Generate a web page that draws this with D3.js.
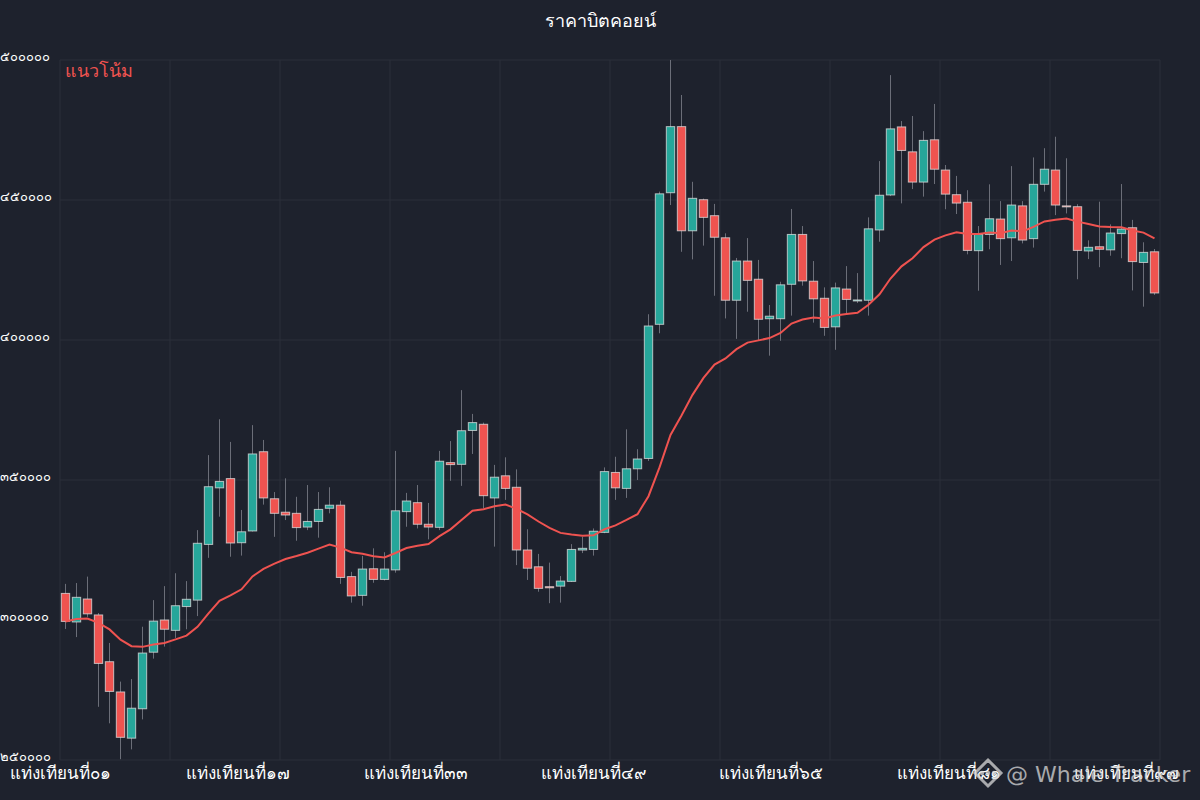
<!DOCTYPE html>
<html>
<head>
<meta charset="utf-8">
<script src="https://cdn.jsdelivr.net/npm/d3@7"></script>
<style>
  html, body { margin: 0; padding: 0; background: #1e222d; }
  svg { display: block; }
</style>
</head>
<body>
<svg id="chart" width="1200" height="800"></svg>
<script>
// ---------- data ----------
const chartTitle = "ราคาบิตคอยน์";
const legendLabel = "แนวโน้ม";
const watermarkText = "@ Whale Tracker";

const opens = [309500,299300,307500,301800,285100,274300,257800,268300,288500,300000,
  296300,304800,307100,327000,347200,350500,327600,331800,360100,343300,
  338500,338100,333200,335200,339900,341000,315500,308800,318300,314500,
  317900,338700,341900,334200,333100,356200,355600,367700,369900,343600,
  351500,347400,325000,319000,311900,312100,313800,325000,325200,331300,
  352700,347000,354000,357700,405600,452600,476200,439000,450100,444400,
  436500,414200,428200,421700,407600,407600,419900,437700,421000,414900,
  404700,418200,414000,414200,439300,451800,476100,467200,456400,471500,
  460700,451900,449200,431900,437700,443200,436500,447900,436200,455600,
  460700,447900,447600,431800,433300,432200,438000,440100,427700,431500];
const highs = [312900,313200,315500,302500,291800,278000,278900,297600,307100,312100,
  316700,313900,332100,358900,371700,363600,339300,369600,364300,345700,
  350600,344000,348200,345700,347400,342600,317200,322900,325600,324200,
  360400,345400,348200,341800,360400,363900,382100,373600,370500,355400,
  358100,353800,332400,323600,320500,315700,327100,329700,332700,354500,
  358300,368100,361000,409200,453000,500000,487500,456500,450500,448600,
  438100,429300,436400,428600,412500,420800,446800,440700,428200,418800,
  420500,426400,423900,443800,463900,494600,478200,480000,474600,484300,
  462500,458600,453500,440700,455600,449600,462100,449600,465200,468500,
  472600,464900,448500,435600,449400,441300,455700,442900,434900,432500];
const lows = [296800,293900,301100,269000,263100,250300,253800,264500,286200,290500,
  293600,296700,301400,322200,336900,322600,323000,331600,341200,329700,
  335700,328300,332100,329400,338100,312900,306200,305100,313300,314100,
  316900,333300,332700,328800,332100,349700,347900,359300,339900,326200,
  342900,319600,314300,310100,306000,306200,313600,323900,323000,331000,
  342900,343600,350000,356800,402400,448200,431500,428800,433700,415800,
  407700,400400,410100,400000,394400,399700,408700,419400,406200,401500,
  396500,409500,413200,408700,435100,451400,448800,453900,451200,455700,
  446700,445000,430600,417600,432400,426800,428200,434500,433000,453000,
  444600,445200,421700,428900,426000,430100,429200,417700,411900,416100];
const closes = [299500,308100,302200,284500,274500,258100,268500,288200,299600,296700,
  305100,307400,327400,347600,349500,327500,331500,359300,343600,338100,
  337500,333000,335200,339500,341000,315200,308600,318200,314500,318200,
  339000,342500,334200,333200,356700,355500,367600,370500,344400,351000,
  347000,325000,318500,311300,311500,313900,325200,325600,331700,353000,
  347200,354000,357500,405000,452200,476200,439000,450600,443800,436700,
  414200,428200,421300,407400,408500,419700,437700,421100,414700,404500,
  418600,414500,414300,439700,451700,475400,467700,456400,471300,461000,
  452100,448900,432000,437700,443300,436200,448200,435700,455600,461000,
  448200,447600,432000,433100,432400,438200,439600,428000,431300,416800];

const yTickValues = [250000, 300000, 350000, 400000, 450000, 500000];
const xTickIndices = [0, 16, 32, 48, 64, 80, 96];
const xTickLabels = ["แท่งเทียนที่๐๑","แท่งเทียนที่๑๗","แท่งเทียนที่๓๓","แท่งเทียนที่๔๙",
                     "แท่งเทียนที่๖๕","แท่งเทียนที่๘๑","แท่งเทียนที่๙๗"];
const emaPeriod = 20;

// ---------- helpers ----------
const thaiDigits = s => String(s).replace(/[0-9]/g, d => "๐๑๒๓๔๕๖๗๘๙"[+d]);

const candles = opens.map((o, i) => ({ i, o, h: highs[i], l: lows[i], c: closes[i] }));
const n = candles.length;

// EMA of closes (indicator line)
const k = 2 / (emaPeriod + 1);
const ema = [];
closes.forEach((c, i) => ema.push(i === 0 ? c : c * k + ema[i - 1] * (1 - k)));

// ---------- layout ----------
const W = 1200, H = 800;
const m = { left: 60, right: 40, top: 60, bottom: 40 };
const svg = d3.select("#chart");

svg.append("rect").attr("width", W).attr("height", H).attr("fill", "#1e222d");

const x = d3.scaleLinear().domain([0, n]).range([m.left, W - m.right]);
const xLabel = d3.scalePoint().domain(d3.range(n)).range([m.left, W - m.right]);
const y = d3.scaleLinear().domain([250000, 500000]).range([H - m.bottom, m.top]);
const step = x(1) - x(0);
const bodyW = step * 0.76;

const FONT = "'DejaVu Sans', 'Noto Sans', sans-serif";

// grid
const grid = svg.append("g").attr("class", "grid");
grid.selectAll("line.v").data(d3.range(0, n + 1, 10)).join("line")
  .attr("class", "v")
  .attr("x1", d => x(d)).attr("x2", d => x(d))
  .attr("y1", m.top).attr("y2", H - m.bottom)
  .attr("stroke", "#2a2e3b").attr("stroke-width", 1);
grid.selectAll("line.h").data(yTickValues).join("line")
  .attr("class", "h")
  .attr("x1", m.left).attr("x2", W - m.right)
  .attr("y1", d => y(d)).attr("y2", d => y(d))
  .attr("stroke", "#2a2e3b").attr("stroke-width", 1);

// y labels
svg.append("g").selectAll("text").data(yTickValues).join("text")
  .attr("x", 0).attr("y", d => y(d) + 1)
  .attr("fill", "#ffffff").attr("font-family", FONT).attr("font-size", 13)
  .text(d => thaiDigits(d));

// x labels
svg.append("g").selectAll("text").data(xTickIndices).join("text")
  .attr("x", d => xLabel(d)).attr("y", H - m.bottom + 19)
  .attr("text-anchor", "middle")
  .attr("fill", "#ffffff").attr("font-family", FONT).attr("font-size", 17)
  .text((d, j) => xTickLabels[j]);

// candles
const cg = svg.append("g").attr("class", "candles");
const up = "#26a69a", down = "#ef5350";
cg.selectAll("line.wick").data(candles).join("line")
  .attr("class", "wick")
  .attr("x1", d => x(d.i + 0.5)).attr("x2", d => x(d.i + 0.5))
  .attr("y1", d => y(d.h)).attr("y2", d => y(d.l))
  .attr("stroke", "#6b6e78").attr("stroke-width", 1);
cg.selectAll("rect.body").data(candles).join("rect")
  .attr("class", "body")
  .attr("x", d => x(d.i + 0.5) - bodyW / 2)
  .attr("width", bodyW)
  .attr("y", d => y(Math.max(d.o, d.c)))
  .attr("height", d => Math.max(1, Math.abs(y(d.o) - y(d.c))))
  .attr("fill", d => d.c >= d.o ? up : down)
  .attr("stroke", "rgba(225,225,225,0.75)").attr("stroke-width", 1);

// EMA line
svg.append("path")
  .datum(ema)
  .attr("fill", "none")
  .attr("stroke", "#ef5350").attr("stroke-width", 2)
  .attr("d", d3.line().x((d, i) => x(i + 0.5)).y(d => y(d)));

// legend
svg.append("text")
  .attr("x", m.left + 5).attr("y", m.top + 17)
  .attr("fill", "#ef5350").attr("font-family", FONT).attr("font-size", 18)
  .text(legendLabel);

// title
svg.append("text")
  .attr("x", W / 2).attr("y", 27)
  .attr("text-anchor", "middle")
  .attr("fill", "#ffffff").attr("font-family", FONT).attr("font-size", 18)
  .text(chartTitle);

// watermark
const wm = svg.append("g").attr("opacity", 0.75);
const lx = 988, ly = 773, r = 13;
wm.append("path")
  .attr("d", `M${lx},${ly - r}L${lx + r},${ly}L${lx},${ly + r}L${lx - r},${ly}Z`)
  .attr("fill", "none").attr("stroke", "#d8d8d8").attr("stroke-width", 3);
wm.selectAll("circle").data([-6, 0, 6]).join("circle")
  .attr("cx", d => lx + d).attr("cy", ly).attr("r", 2.2).attr("fill", "#d8d8d8");
wm.append("text")
  .attr("x", 1006).attr("y", 782)
  .attr("fill", "#d8d8d8").attr("font-family", FONT).attr("font-size", 22)
  .text(watermarkText);
</script>
</body>
</html>
